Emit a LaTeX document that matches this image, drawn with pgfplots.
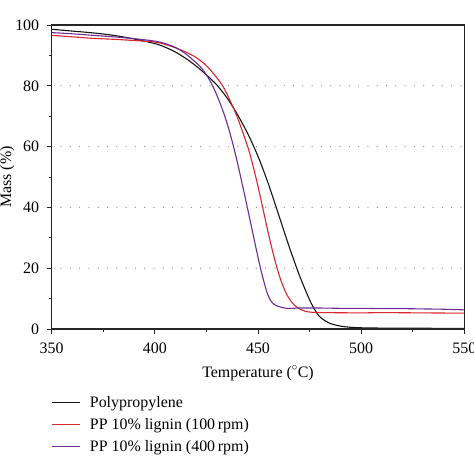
\documentclass[border=0pt]{standalone}
\usepackage{pgfplots}
\pgfplotsset{compat=1.18}
\usepackage{fontspec}
\setmainfont{Liberation Serif}
\definecolor{ppblack}{RGB}{20,20,20}
\definecolor{ppred}{RGB}{218,38,44}
\definecolor{pppurple}{RGB}{108,44,146}
\definecolor{gridgray}{RGB}{140,140,140}
\begin{document}
\begin{tikzpicture}
\begin{axis}[
  at={(0,0)}, anchor=south west,
  scale only axis, width=412.6bp, height=304bp,
  xmin=350, xmax=550, ymin=0, ymax=100,
  xtick={350,400,450,500,550}, ytick={0,20,40,60,80,100},
  minor x tick num=1, minor y tick num=1,
  xtick pos=bottom, ytick pos=left,
  tick align=outside,
  major tick length=5bp, minor tick length=2.8bp,
  every tick/.style={black!85, line width=0.8bp},
  axis line style={black!85, line width=1.2bp},
  axis on top,
  ymajorgrids,
  major grid style={gridgray, line width=1.3bp, line cap=round, dash pattern=on 0bp off 9.3bp},
  /pgf/number format/assume math mode=true,
  tick label style={font=\fontsize{16}{19}\selectfont},
  xticklabel style={yshift=-5bp},
  yticklabel style={xshift=-4bp},
  label style={font=\fontsize{16}{19}\selectfont},
  xlabel={Temperature ($^{\circ}$C)},
  xlabel style={at={(axis description cs:0.5,-0.158)}, anchor=base},
  ylabel={Mass (\%)},
  ylabel style={at={(axis description cs:-0.0986,0.5)}, anchor=base, rotate=0},
  legend cell align=left,
  legend style={at={(axis description cs:0,-0.318)}, anchor=west, draw=none, fill=none,
    inner sep=0pt, outer sep=0pt, row sep=7bp, column sep=9bp,
    font=\fontsize{16}{19}\selectfont,
    nodes={inner sep=0pt, text height=11bp, text depth=4bp}},
  legend image code/.code={\draw[#1, line width=0.9bp] (0bp,1bp) -- (28.3bp,1bp);},
]
\addplot[ppblack, line width=1.1bp, smooth, tension=0.5] coordinates {
(350,98.6) (360,98.0) (370,97.4) (380,96.6) (390,95.4) (400,93.9) (405,92.7)
(410,91.1) (415,89.0) (420,86.5) (425,83.6) (430,80.3) (435,76.0) (440,70.6)
(445,64.3) (450,56.8) (455,47.8) (460,37.6) (465,27.3) (470,17.8) (475,9.6)
(478,5.8) (480,4.0) (483,2.5) (486,1.6) (490,0.95) (495,0.55) (500,0.4)
(510,0.3) (525,0.25) (550,0.2)
};
\addlegendentry{Polypropylene}
\addplot[ppred, line width=1.1bp, smooth, tension=0.5] coordinates {
(350,96.6) (360,96.1) (370,95.6) (380,95.3) (390,94.9) (400,94.4) (405,93.6)
(410,92.5) (415,91.1) (420,89.3) (425,86.6) (430,82.7) (433,79.8) (436,75.8)
(440,69.6) (445,60.0) (447,55.2) (449,49.8) (451,43.9) (453,37.7) (455,31.5)
(457,25.8) (459,20.6) (461,16.2) (463,12.7) (465,10.1) (467,8.3) (469,7.1)
(471,6.3) (473,5.8) (476,5.5) (480,5.4) (490,5.35) (500,5.3) (510,5.4)
(520,5.35) (530,5.3) (540,5.25) (550,5.2)
};
\addlegendentry{PP 10\% lignin (100\,rpm)}
\addplot[pppurple, line width=1.1bp, smooth, tension=0.5] coordinates {
(350,97.5) (360,97.1) (370,96.6) (380,96.1) (390,95.5) (400,94.7) (405,93.9)
(410,92.6) (415,90.5) (420,87.6) (422,86.3) (424,84.6) (426,82.5) (428,80.0)
(430,77.0) (432,73.6) (434,69.8) (436,65.4) (438,60.4) (440,54.8) (442,48.8)
(444,42.6) (446,36.3) (448,29.9) (450,23.6) (452,17.8) (454,12.8) (455,10.9)
(456,9.5) (457,8.6) (458,8.0) (460,7.4) (462,7.0) (464,6.8) (467,6.8)
(470,6.9) (480,6.9) (490,6.8) (500,6.8) (510,6.7) (520,6.7) (530,6.6)
(540,6.5) (550,6.3)
};
\addlegendentry{PP 10\% lignin (400\,rpm)}
\end{axis}
\pgfresetboundingbox
\path[use as bounding box] (-51.7bp,-145bp) rectangle (422.3bp,329bp);
\end{tikzpicture}
\end{document}
